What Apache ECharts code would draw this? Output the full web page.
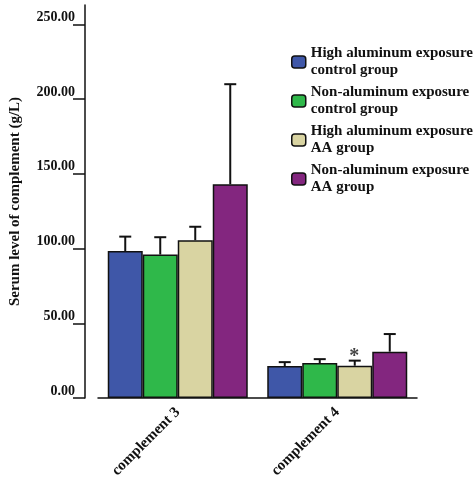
<!DOCTYPE html>
<html>
<head>
<meta charset="utf-8">
<script src="https://cdn.jsdelivr.net/npm/echarts@6/dist/echarts.min.js"></script>
<style>html,body{margin:0;padding:0;background:#fff}#chart{width:474px;height:482px}</style>
</head>
<body>
<div id="chart"></div>
<script>
const categories = ['complement 3', 'complement 4'];
const groupNames = [
  'High aluminum exposure\ncontrol group',
  'Non-aluminum exposure\ncontrol group',
  'High aluminum exposure\nAA group',
  'Non-aluminum exposure\nAA group'
];
const colors = ['#3f57a8', '#2fb84a', '#d9d4a2', '#83267f'];
// mean values per group [complement 3, complement 4]
const means = [
  [98.3, 21.4],
  [96.0, 23.4],
  [105.6, 21.6],
  [143.0, 31.0]
];
// upper end of error bars
const errTops = [
  [108.0, 24.0],
  [107.6, 26.0],
  [114.6, 25.0],
  [210.0, 42.8]
];
const yTicks = [0, 50, 100, 150, 200, 250];

const chart = echarts.init(document.getElementById('chart'));
const font = 'Liberation Serif';
const barWidth = 35;

const series = [];
groupNames.forEach((name, i) => {
  series.push({
    name, type: 'bar', barWidth, barGap: 0,
    data: means[i],
    itemStyle: { color: colors[i], borderColor: '#111', borderWidth: 1.5 }
  });
});
groupNames.forEach((name, i) => {
  series.push({
    type: 'custom', silent: true,
    data: means[i].map((m, j) => [j, m, errTops[i][j]]),
    renderItem: (params, api) => {
      const c = api.coord([api.value(0), api.value(1)]);
      const t = api.coord([api.value(0), api.value(2)]);
      const x = c[0] + (i - 1.5) * barWidth;
      return {
        type: 'group', children: [
          { type: 'line', shape: { x1: x, y1: c[1], x2: x, y2: t[1] }, style: { stroke: '#111', lineWidth: 2 } },
          { type: 'line', shape: { x1: x - 6, y1: t[1], x2: x + 6, y2: t[1] }, style: { stroke: '#111', lineWidth: 2 } }
        ]
      };
    },
    z: 1
  });
});
// significance marker
series.push({
  type: 'scatter', symbolSize: 0, silent: true,
  data: [[1, 33]],
  label: { show: true, formatter: '*', color: '#111', fontSize: 20, fontWeight: 'bold', fontFamily: font, offset: [17, 8] }
});

chart.setOption({
  animation: false,
  grid: { left: 94, right: 57, top: 5, bottom: 84 },
  legend: {
    orient: 'vertical', left: 286, top: 40, itemWidth: 14, itemHeight: 12, itemGap: 5,
    data: groupNames,
    textStyle: { fontFamily: font, fontWeight: 'bold', fontSize: 15, color: '#111', lineHeight: 17 },
    itemStyle: { borderColor: '#111', borderWidth: 1.5 }
  },
  xAxis: {
    type: 'category', data: categories,
    axisLine: { lineStyle: { color: '#111', width: 1.5 } },
    axisTick: { alignWithLabel: true, length: 8, lineStyle: { color: '#111', width: 1.5 } },
    axisLabel: { rotate: 45, fontFamily: font, fontWeight: 'bold', fontSize: 15, color: '#111', margin: 12 }
  },
  yAxis: {
    type: 'value', min: 0, max: 263, interval: 50, offset: 13,
    name: 'Serum level of complement (g/L)', nameLocation: 'middle', nameGap: 62,
    nameTextStyle: { fontFamily: font, fontWeight: 'bold', fontSize: 15, color: '#111' },
    splitLine: { show: false },
    axisLine: { show: true, lineStyle: { color: '#111', width: 1.5 } },
    axisTick: { show: true, length: 12, lineStyle: { color: '#111', width: 1.5 } },
    axisLabel: {
      showMaxLabel: false, verticalAlign: 'bottom', margin: 10,
      fontFamily: font, fontWeight: 'bold', fontSize: 14, color: '#111',
      formatter: v => yTicks.includes(v) ? v.toFixed(2) : ''
    }
  },
  series
});
</script>
</body>
</html>
